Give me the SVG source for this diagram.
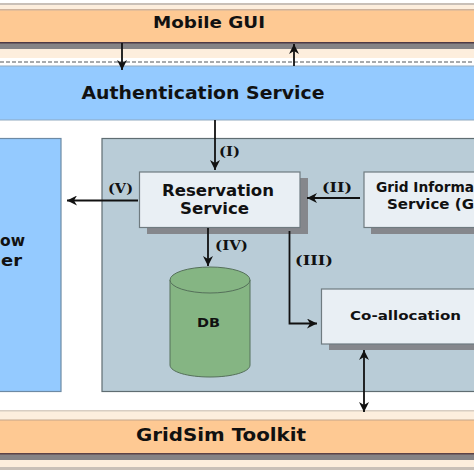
<svg xmlns="http://www.w3.org/2000/svg" width="474" height="474" viewBox="0 0 474 474">
<defs>
<marker id="a" markerUnits="userSpaceOnUse" markerWidth="12" markerHeight="10" refX="10" refY="5" orient="auto-start-reverse"><path d="M0 0L10 5L0 10L3 5Z" fill="#111"/></marker>
</defs>
<style>
text{font-family:"DejaVu Sans",Verdana,sans-serif;font-weight:bold;fill:#111;text-anchor:start}
.c{fill:none;stroke:#111;stroke-width:1.8}
.box{fill:#e9eff4;stroke:#6f7b80;stroke-width:1.2}
.sh{fill:#85878c}
.lab{font-family:"DejaVu Serif","Liberation Serif",serif;font-size:13.5px}
</style>
<rect width="474" height="474" fill="#fff"/>
<g id="mobile-gui">
<rect x="0" y="3" width="474" height="2" fill="#c9c0b8"/>
<rect x="0" y="5" width="474" height="53" fill="#fdeedd"/>
<rect x="0" y="43" width="474" height="6" fill="#858385"/>
<rect x="0" y="9.500" width="474" height="33" fill="#fec993"/>
<rect x="0" y="9" width="474" height="1.500" fill="#cdb39e"/>
<rect x="0" y="42" width="474" height="1.500" fill="#4e3a45"/>
<text x="153" y="28" font-size="15" textLength="112" lengthAdjust="spacingAndGlyphs">Mobile GUI</text>
</g>
<g id="auth-service">
<path d="M0 62H474" stroke="#a8aaac" stroke-width="2" stroke-dasharray="4 2" fill="none"/>
<rect x="0" y="66" width="474" height="54" fill="#94caff"/>
<path d="M0 66H474M0 120H474" stroke="#8fa9c0" stroke-width="1"/>
<text x="81.500" y="99" font-size="17.500" textLength="243" lengthAdjust="spacingAndGlyphs">Authentication Service</text>
</g>
<g id="workflow-manager">
<rect x="-2" y="138.500" width="63" height="253" fill="#94caff" stroke="#6d8aa4" stroke-width="1.200"/>
<text x="0" y="246" font-size="15.500" textLength="25" lengthAdjust="spacingAndGlyphs">ow</text>
<text x="1" y="265.500" font-size="15.500" textLength="21" lengthAdjust="spacingAndGlyphs">er</text>
</g>
<g id="broker-panel">
<rect x="102" y="138.500" width="374" height="253" fill="#b9ccd7" stroke="#5f6d72" stroke-width="1.200"/>
</g>
<g id="reservation-service">
<rect class="sh" x="147" y="178" width="161" height="56"/>
<rect class="box" x="139.500" y="172" width="160.500" height="55.500"/>
<text x="162" y="195.500" font-size="15" textLength="112" lengthAdjust="spacingAndGlyphs">Reservation</text>
<text x="180" y="214" font-size="15" textLength="69" lengthAdjust="spacingAndGlyphs">Service</text>
</g>
<g id="grid-information-service">
<rect class="sh" x="371" y="178" width="110" height="56"/>
<rect class="box" x="364" y="172" width="116" height="55.500"/>
<text x="376" y="192" font-size="13.500" textLength="98" lengthAdjust="spacingAndGlyphs">Grid Informa</text>
<text x="387" y="208.500" font-size="13.500" textLength="87" lengthAdjust="spacingAndGlyphs">Service (G</text>
</g>
<g id="co-allocation">
<rect class="sh" x="329" y="295" width="150" height="55"/>
<rect class="box" x="321.500" y="289" width="158" height="55"/>
<text x="350" y="320" font-size="13" textLength="111" lengthAdjust="spacingAndGlyphs">Co-allocation</text>
</g>
<g id="db">
<path d="M170 280V365C170 372 188 377 210 377S250 372 250 365V280Z" fill="#85b583" stroke="#55705a" stroke-width="1"/>
<ellipse cx="210" cy="280" rx="40" ry="13" fill="#85b583" stroke="#55705a" stroke-width="1"/>
<text x="197" y="327" font-size="12.500" textLength="23" lengthAdjust="spacingAndGlyphs">DB</text>
</g>
<g id="gridsim-toolkit">
<rect x="0" y="410" width="474" height="58" fill="#fdeedd"/>
<rect x="0" y="410" width="474" height="1.500" fill="#d8cdc2"/>
<rect x="0" y="453" width="474" height="7" fill="#858385"/>
<rect x="0" y="420" width="474" height="33" fill="#fec993"/>
<rect x="0" y="419.500" width="474" height="1" fill="#c4a58c"/>
<rect x="0" y="453" width="474" height="1.500" fill="#5c4347"/>
<rect x="0" y="467" width="474" height="3" fill="#c9c0b8"/>
<text x="136" y="441" font-size="17" textLength="170" lengthAdjust="spacingAndGlyphs">GridSim Toolkit</text>
</g>
<g id="connectors">
<path class="c" d="M122 43V70" marker-end="url(#a)"/>
<path class="c" d="M294 66V44" marker-end="url(#a)"/>
<path class="c" d="M215 120V170" marker-end="url(#a)"/>
<path class="c" d="M138 200.500H67" marker-end="url(#a)"/>
<path class="c" d="M360 198H307" marker-end="url(#a)"/>
<path class="c" d="M208 228V266" marker-end="url(#a)"/>
<path class="c" d="M289.500 231V323.500H317" marker-end="url(#a)"/>
<path class="c" d="M364 350V412" marker-start="url(#a)" marker-end="url(#a)"/>
</g>
<g id="labels">
<text class="lab" x="219" y="156" textLength="21" lengthAdjust="spacingAndGlyphs">(I)</text>
<text class="lab" x="108" y="193" textLength="25" lengthAdjust="spacingAndGlyphs">(V)</text>
<text class="lab" x="322" y="192" textLength="30" lengthAdjust="spacingAndGlyphs">(II)</text>
<text class="lab" x="215" y="250" textLength="33" lengthAdjust="spacingAndGlyphs">(IV)</text>
<text class="lab" x="295" y="265" textLength="38" lengthAdjust="spacingAndGlyphs">(III)</text>
</g>
</svg>
